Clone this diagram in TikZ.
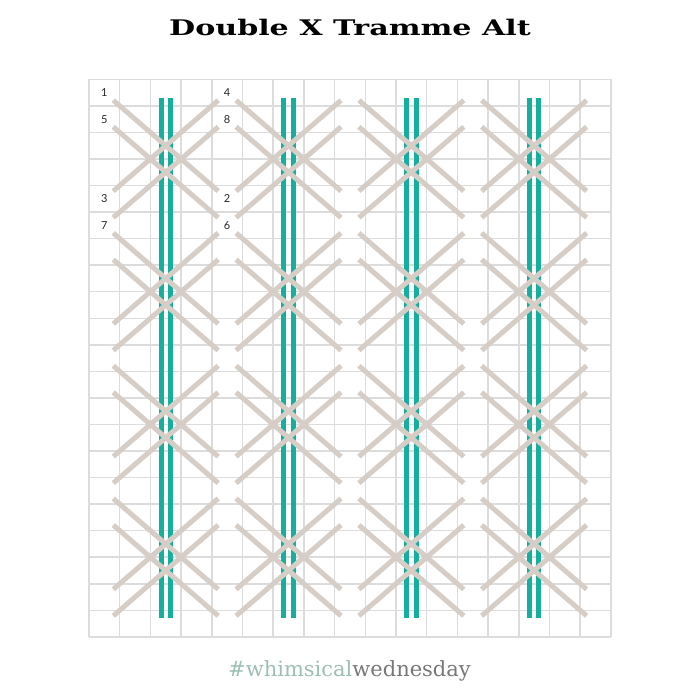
\documentclass[tikz,border=0pt]{standalone}
\usepackage{fontspec}
\setmainfont{DejaVu Serif}
\newfontfamily\numfont{Lato}
\newfontfamily\titlefont[FakeStretch=1.4]{DejaVu Serif}
\usepackage{tikz}
\definecolor{gridgray}{HTML}{DCDCDC}
\definecolor{stitch}{HTML}{D6CEC6}
\definecolor{tramme}{HTML}{14B09D}
\definecolor{tagsage}{HTML}{9CBFB2}
\definecolor{taggray}{HTML}{777777}
\tikzstyle{gridline}=[draw=gridgray, line width=1.5pt]
\tikzstyle{stitchline}=[draw=stitch, line width=5pt, shorten <=-8.5pt, shorten >=-8.5pt]
\tikzstyle{trammeline}=[draw=tramme, line width=5pt]
\tikzstyle{holenum}=[font=\numfont\fontsize{11}{12}\selectfont, text=black!85, inner sep=0pt]

\begin{document}
\begin{tikzpicture}[x=30.7pt, y=-26.55pt]
\useasboundingbox (-89pt,79.3pt) rectangle (611pt,-620.7pt);
% canvas
\foreach \c in {0,...,17}
  \draw[gridline] (\c,0) -- (\c,21);
\foreach \r in {0,...,21}
  \draw[gridline] (0,\r) -- (17,\r);
% tramme
\foreach \k in {0,...,3}
  \foreach \dx in {-4.7pt,4.7pt}
    \draw[trammeline] ([xshift=\dx]2.5+4*\k,0.716) -- ([xshift=\dx]2.5+4*\k,20.3);
% double crosses
\foreach \k in {0,...,3}
  \foreach \m in {0,...,3} {
    \begin{scope}[shift={(4*\k,5*\m)}]
      \draw[stitchline] (1,1) -- (4,4);
      \draw[stitchline] (1,4) -- (4,1);
      \draw[stitchline] (1,2) -- (4,5);
      \draw[stitchline] (1,5) -- (4,2);
    \end{scope}
  }
\foreach \n/\c/\r in {1/0/0, 5/0/1, 3/0/4, 7/0/5, 4/4/0, 8/4/1, 2/4/4, 6/4/5}
  \node[holenum] (hole\n) at (\c+.5,\r+.5) {\n};
\node[anchor=base, font=\titlefont\bfseries\fontsize{21.5}{24}\selectfont] (title) at (261pt,43.6pt) {Double X Tramme Alt};
\node[anchor=base, font=\fontsize{21}{24}\selectfont] (hashtag) at (260.5pt,-597.4pt) {{\color{tagsage}\#whimsical}{\color{taggray}wednesday}};
\end{tikzpicture}
\end{document}
